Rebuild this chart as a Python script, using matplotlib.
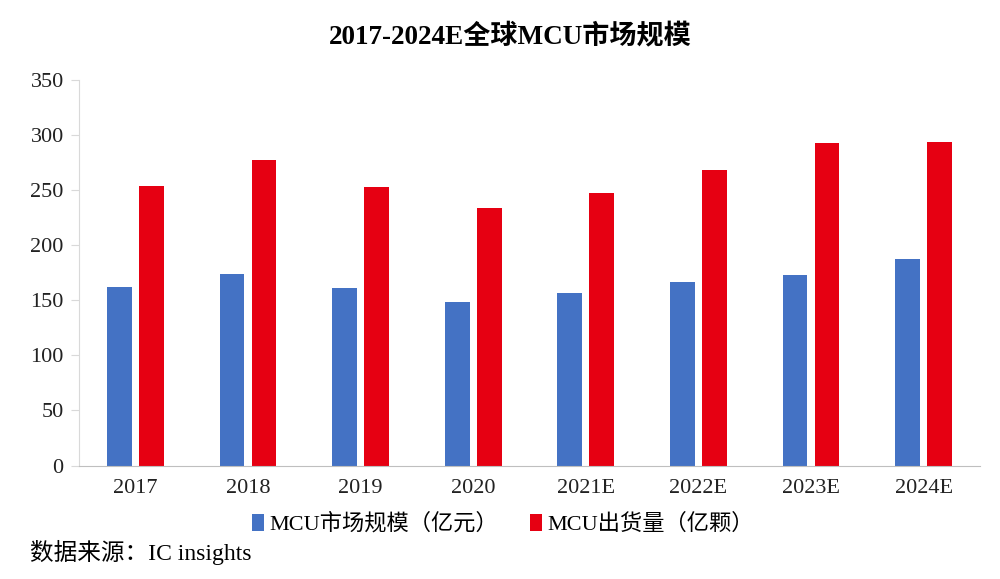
import numpy as np
from matplotlib import pyplot as plt

plt.rcParams['font.family'] = ['Liberation Serif', 'Noto Sans CJK SC']

years = ['2017', '2018', '2019', '2020', '2021E', '2022E', '2023E', '2024E']
market_size = [162, 174, 161, 148, 157, 167, 173, 187]      # 亿元
shipments = [254, 277, 253, 234, 247, 268, 293, 294]        # 亿颗

blue = '#4472C4'
red = '#E60012'

fig = plt.figure(figsize=(10, 5.79), dpi=100)
ax = fig.add_axes([0.079, 0.196, 0.901, 0.666])

x = np.arange(len(years))
w = 0.22
ax.bar(x - 0.142, market_size, w, color=blue, label='MCU市场规模（亿元）')
ax.bar(x + 0.142, shipments, w, color=red, label='MCU出货量（亿颗）')

ax.set_xlim(-0.5, len(years) - 0.5)
ax.set_ylim(0, 350)
ax.set_yticks(range(0, 351, 50))
ax.set_xticks(x)
ax.set_xticklabels(years)
ax.tick_params(axis='both', labelsize=16, colors='#222222')
ax.tick_params(axis='x', length=0, pad=10)
ax.tick_params(axis='y', length=6, color='#d9d9d9', pad=5)

for s in ['top', 'right']:
    ax.spines[s].set_visible(False)
ax.spines['left'].set_color('#d9d9d9')
ax.spines['bottom'].set_color('#bfbfbf')

fig.text(0.51, 0.936, '2017-2024E全球MCU市场规模', ha='center', va='center',
         fontsize=19.5, fontweight='bold')

fig.legend(loc='center', bbox_to_anchor=(0.503, 0.095), ncol=2, frameon=False,
           fontsize=16, handlelength=0.55, handleheight=0.8, handletextpad=0.25,
           columnspacing=1.4)

fig.text(0.03, 0.045, '数据来源：IC insights', ha='left', va='center', fontsize=17)

fig.savefig('out.png', dpi=100)
